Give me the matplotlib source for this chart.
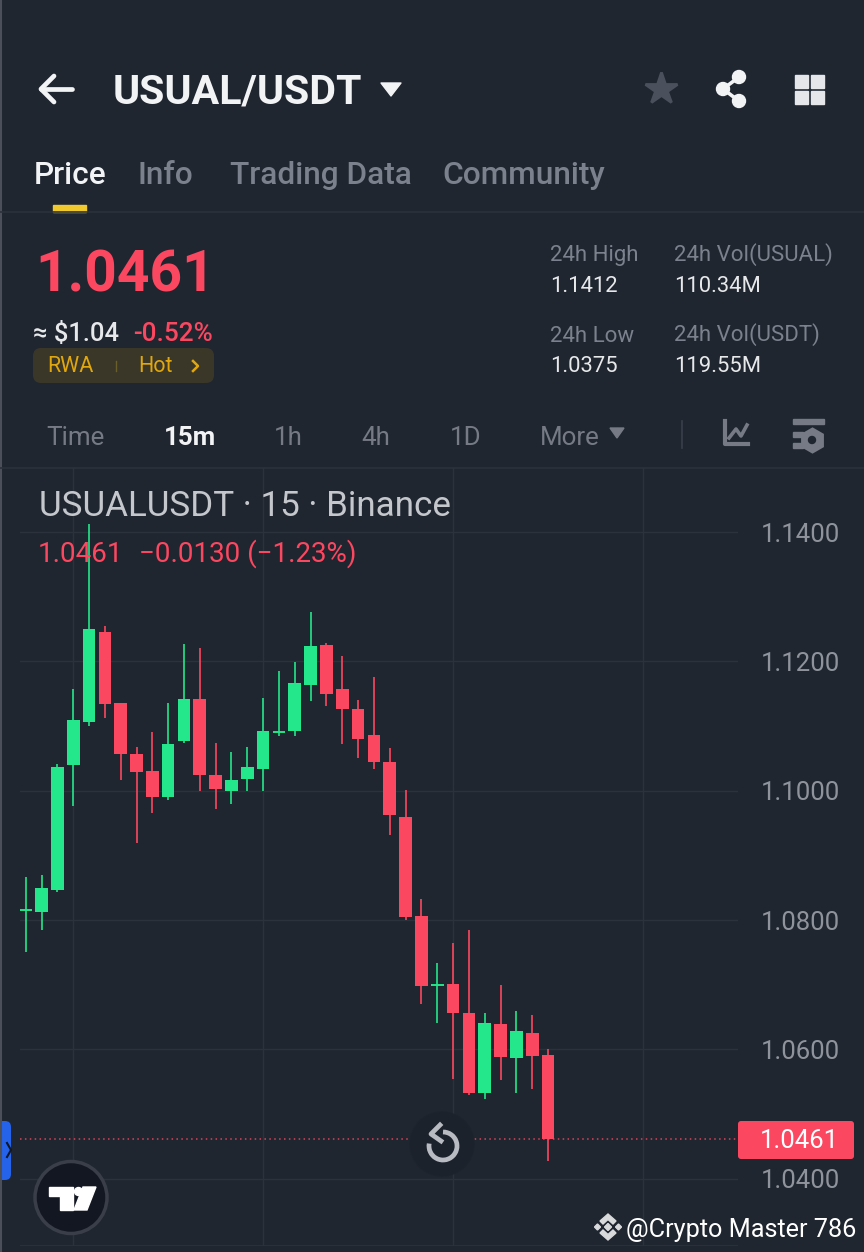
import matplotlib
matplotlib.use("Agg")
import matplotlib.pyplot as plt
from matplotlib.patches import Circle, FancyBboxPatch, Polygon, Rectangle, Arc

# candle values
opens = [1.0815, 1.0812, 1.0847, 1.1039, 1.1106, 1.1246, 1.1136, 1.1057, 1.1030, 1.0991, 1.1077, 1.1142,
         1.1025, 1.1000, 1.1018, 1.1033, 1.1091, 1.1092, 1.1164, 1.1225, 1.1157, 1.1127, 1.1086, 1.1045,
         1.0960, 1.0807, 1.0700, 1.0701, 1.0656, 1.0533, 1.0640, 1.0586, 1.0626, 1.0591]
highs = [1.0867, 1.0869, 1.1041, 1.1157, 1.1412, 1.1255, 1.1136, 1.1067, 1.1091, 1.1136, 1.1227, 1.1221,
         1.1074, 1.1060, 1.1067, 1.1144, 1.1185, 1.1199, 1.1277, 1.1228, 1.1209, 1.1141, 1.1176, 1.1066,
         1.1001, 1.0833, 1.0733, 1.0765, 1.0784, 1.0656, 1.0700, 1.0660, 1.0653, 1.0600]
lows = [1.0751, 1.0785, 1.0843, 1.0977, 1.1100, 1.1113, 1.1016, 1.0919, 1.0966, 1.0985, 1.1074, 1.1000,
        1.0972, 1.0979, 1.1000, 1.1000, 1.1084, 1.1084, 1.1138, 1.1131, 1.1072, 1.1050, 1.1034, 1.0932,
        1.0800, 1.0670, 1.0641, 1.0555, 1.0529, 1.0524, 1.0553, 1.0533, 1.0539, 1.0427]
closes = [1.0815, 1.0849, 1.1037, 1.1109, 1.1250, 1.1134, 1.1056, 1.1029, 1.0991, 1.1073, 1.1142, 1.1025,
          1.1002, 1.1016, 1.1036, 1.1093, 1.1091, 1.1166, 1.1223, 1.1150, 1.1126, 1.1080, 1.1045, 1.0963,
          1.0805, 1.0698, 1.0700, 1.0656, 1.0533, 1.0641, 1.0588, 1.0629, 1.0590, 1.0461]

price_ticks = [1.14, 1.12, 1.10, 1.08, 1.06, 1.04]
time_ticks = [3, 15, 27, 39]
last_price = 1.0461

tabs = ["Price", "Info", "Trading Data", "Community"]
tab_x = [34, 138, 230, 442]
periods = ["Time", "15m", "1h", "4h", "1D", "More"]
period_x = [46, 164, 274, 361, 450, 540]

BG = "#1f2630"
GRID = "#2b323c"
GREEN = "#24e68a"
RED = "#fb4760"
GREY = "#7c828d"
TICK = "#8f939b"
WHITE = "#f2f3f5"
W, H = 864, 1252

plt.rcParams["font.family"] = ["Roboto", "DejaVu Sans"]

fig = plt.figure(figsize=(W / 100, H / 100), dpi=100, facecolor=BG)


def px_axes(left, top, right, bottom, **kw):
    # axes placed with pixel coordinates of the screenshot
    return fig.add_axes([left / W, 1 - bottom / H, (right - left) / W, (bottom - top) / H], **kw)


# chart area
ax = px_axes(20, 468, 738, 1246, zorder=1)
ax.set_facecolor("none")
ax.set_xlim(-0.36, 45.0)
ax.set_ylim(1.0296, 1.1499)
for s in ax.spines.values():
    s.set_visible(False)
ax.yaxis.tick_right()
ax.set_yticks(price_ticks)
ax.set_yticklabels(["%.4f" % p for p in price_ticks], fontsize=18.5, color=TICK)
ax.set_xticks(time_ticks)
ax.set_xticklabels([])
ax.tick_params(length=0, pad=16.5)
ax.grid(True, color=GRID, lw=1)
ax.set_axisbelow(True)
ax.axhline(1.0296, color=GRID, lw=2)

ax.axhline(last_price, color=RED, lw=1.1, ls=(0, (1, 2.2)), alpha=0.85, zorder=2)

for i in range(len(opens)):
    col = GREEN if closes[i] >= opens[i] else RED
    ax.vlines(i, lows[i], highs[i], color=col, lw=1.2, zorder=3)
    if opens[i] == closes[i]:
        ax.hlines(opens[i], i - 0.4, i + 0.4, color=col, lw=1.4, zorder=3)
    else:
        ax.bar(i, abs(closes[i] - opens[i]), bottom=min(opens[i], closes[i]), width=0.8, color=col, zorder=4)

# everything around the chart, in screenshot pixels
ui = px_axes(0, 0, W, H, zorder=3)
ui.set_xlim(0, W)
ui.set_ylim(H, 0)
ui.axis("off")
ui.patch.set_alpha(0)

ui.plot([0.5, 0.5], [0, H], color="#4a4f5a", lw=1.5)
ui.plot([0, W], [212, 212], color=GRID, lw=1.2)
ui.plot([0, W], [468, 468], color=GRID, lw=1.2)

# header
ui.plot([41, 72], [89, 89], color=WHITE, lw=3.4, solid_capstyle="round")
ui.plot([54, 41, 54], [76, 89, 102], color=WHITE, lw=3.4, solid_capstyle="round", solid_joinstyle="round")
ui.text(113, 92, "USUAL/USDT", color=WHITE, fontsize=29.6, fontweight="bold", va="center")
ui.add_patch(Polygon([[381, 83], [401, 83], [391, 96]], closed=True, color=WHITE, joinstyle="round"))
ui.plot([661], [89], marker="*", ms=24, color="#4a505c", mec="#4a505c", mew=2)
for cx, cy in [(739, 77), (723, 89), (739, 101)]:
    ui.add_patch(Circle((cx, cy), 6.5, color=WHITE))
ui.plot([739, 723, 739], [77, 89, 101], color=WHITE, lw=2.6)
for sx, sy in [(795, 75), (811, 75), (795, 91), (811, 91)]:
    ui.add_patch(Rectangle((sx, sy), 13, 12.5, color="#e4e6e9"))

# tabs
for i, t in enumerate(tabs):
    ui.text(tab_x[i], 175, t, color=WHITE if i == 0 else GREY, fontsize=22.8, va="center",
            fontweight="medium")
ui.add_patch(Rectangle((53, 205), 33, 7, color="#f0c92e"))

# price block
ui.text(35, 276.5, "1.0461", color=RED, fontsize=41, fontweight="bold", va="center")
ui.text(33, 334, "≈ $1.04", color="#e6e8ea", fontsize=18.4, fontweight="medium", va="center")
ui.text(133, 334, "-0.52%", color=RED, fontsize=18.8, fontweight="medium", va="center")
ui.add_patch(FancyBboxPatch((33, 348), 181, 35, boxstyle="round,pad=0,rounding_size=8",
                            fc="#3a3628", ec="none"))
ui.text(47, 367, "RWA", color="#e0a80e", fontsize=15.5, va="center")
ui.plot([116, 116], [361, 371], color="#6a5f2a", lw=1)
ui.text(138, 367, "Hot", color="#e0a80e", fontsize=15.5, va="center")
ui.plot([193, 198, 193], [361, 366, 371], color="#e0a80e", lw=1.8)

# 24h stats
ui.text(550, 256, "24h High", color=GREY, fontsize=16, va="center")
ui.text(550, 287, "1.1412", color="#e6e8ea", fontsize=15.8, va="center")
ui.text(674, 255, "24h Vol(USUAL)", color=GREY, fontsize=16, va="center")
ui.text(674, 286, "110.34M", color="#e6e8ea", fontsize=15.8, va="center")
ui.text(550, 336, "24h Low", color=GREY, fontsize=16, va="center")
ui.text(550, 367, "1.0375", color="#e6e8ea", fontsize=15.8, va="center")
ui.text(674, 335, "24h Vol(USDT)", color=GREY, fontsize=16, va="center")
ui.text(674, 366, "119.55M", color="#e6e8ea", fontsize=15.8, va="center")

# period row
for i, t in enumerate(periods):
    ui.text(period_x[i], 438, t, color=WHITE if t == "15m" else "#757a84", fontsize=18.7, va="center",
            fontweight="bold" if t == "15m" else "normal")
ui.add_patch(Polygon([[610, 428], [624, 428], [617, 438]], closed=True, color="#757a84"))
ui.plot([682, 682], [421, 448], color="#3a404b", lw=1.2)
ui.plot([725, 725, 748], [421, 444, 444], color="#757a84", lw=3)
ui.plot([729, 736, 741, 747], [438, 429, 436, 425], color="#757a84", lw=2.6)
ui.add_patch(Rectangle((793, 419), 31, 5, color="#757a84"))
ui.add_patch(Rectangle((793, 432), 10, 5, color="#757a84"))
ui.add_patch(Rectangle((793, 443), 10, 5, color="#757a84"))
ui.plot([812], [440], marker="h", ms=19, color="#757a84", mec="none")
ui.add_patch(Circle((812, 440), 3.5, color=BG, zorder=4))

# chart legend
ui.text(39, 506, "USUALUSDT · 15 · Binance", color="#c4c7cc", fontsize=25.2, va="center")
ui.text(38, 554, "1.0461", color=RED, fontsize=20, va="center")
ui.text(139, 554, "−0.0130 (−1.23%)", color=RED, fontsize=20, va="center")

# last price label
ui.add_patch(FancyBboxPatch((738, 1121), 116, 38, boxstyle="round,pad=0,rounding_size=3", fc=RED, ec="none"))
ui.text(760, 1141, "1.0461", color="white", fontsize=18.5, va="center")

# recenter button
ui.add_patch(Circle((442, 1144), 32, fc="#1c222b", ec="#1d232c", lw=1, zorder=4))
ui.add_patch(Arc((443, 1146), 28, 28, theta1=270, theta2=550, color="#b8bbc2", lw=3.4, zorder=5))
ui.plot([440, 431, 441], [1125, 1134, 1141], color="#b8bbc2", lw=3.4, zorder=5)

# side tab
ui.add_patch(FancyBboxPatch((-8, 1121), 19, 59, boxstyle="round,pad=0,rounding_size=6", fc="#2563eb", ec="none"))
ui.plot([7, 11, 7], [1143, 1150, 1157], color="#131722", lw=1.5, zorder=5)

# tradingview logo
ui.add_patch(Circle((71, 1197.5), 36, fc="#131722", ec="#3a3e48", lw=2.5))
ui.add_patch(Polygon([[48.5, 1187], [73, 1187], [73, 1210], [60, 1210], [60, 1196], [48.5, 1196]], closed=True, color="white"))
ui.add_patch(Circle((78.5, 1191.5), 4, color="white"))
ui.add_patch(Polygon([[83, 1187], [96, 1187], [87, 1210], [74, 1210]], closed=True, color="white"))

# watermark, binance mark
LOGO = "#d9dadc"
for dx, r in [(0, 3.5), (-10.5, 3), (10.5, 3)]:
    ui.add_patch(Polygon([[608 + dx - r, 1227], [608 + dx, 1227 - r], [608 + dx + r, 1227], [608 + dx, 1227 + r]],
                         closed=True, color=LOGO))
ui.add_patch(Polygon([[608, 1214], [616, 1221], [613, 1224], [608, 1219.5], [603, 1224], [600, 1221]], closed=True, color=LOGO))
ui.add_patch(Polygon([[608, 1240], [616, 1233], [613, 1230], [608, 1234.5], [603, 1230], [600, 1233]], closed=True, color=LOGO))
ui.text(626, 1230, "@Crypto Master 786", color="white", fontsize=18.2, va="center")

fig.savefig("out.png", dpi=100, facecolor=BG)
